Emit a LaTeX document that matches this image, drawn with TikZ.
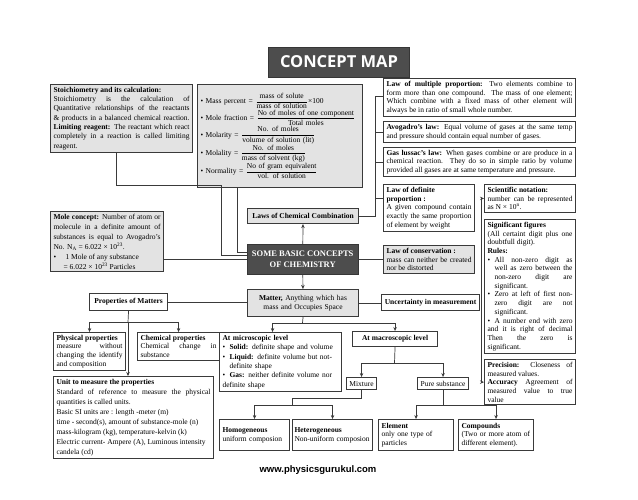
\documentclass[tikz,border=0pt]{standalone}
\usepackage{amsmath}
\usepackage{fontspec}
\setmainfont{Liberation Serif}
\newfontfamily\headfont{Open Sans}
\newfontfamily\webfont{Liberation Sans}
\usetikzlibrary{arrows.meta, calc}
\definecolor{cInk}{HTML}{3A3A3A}
\definecolor{cShade}{HTML}{E3E3E3}
\definecolor{cDark}{HTML}{4D4D4D}
\newcommand{\boxfont}{\fontsize{7.5}{8.7}\selectfont}
\newcommand{\roomyfont}{\fontsize{7.5}{10}\selectfont}
\newcommand{\itm}{\par\noindent\hangindent=7pt\hangafter=1\makebox[7pt][l]{\textbullet}}
\newcommand{\frc}[2]{$\dfrac{\text{#1}}{\text{#2}}$}

\begin{document}
\begin{tikzpicture}[
    x=1pt, y=-1pt, font=\boxfont,
    box/.style={draw=cInk, line width=1.1pt, fill=white, anchor=north west,
                inner xsep=3pt, inner ysep=2.5pt, align=justify},
    gbox/.style={box, fill=cShade},
    tag/.style={draw=cInk, line width=1.1pt, fill=white, anchor=north west,
                inner sep=1pt, align=center, font=\boxfont\bfseries},
    dark/.style={draw=cDark!70!black, fill=cDark, text=white},
    link/.style={line width=0.7pt, cInk},
    arr/.style={link, -{Stealth[length=4pt, width=3.5pt]}},
]
\useasboundingbox (0,0) rectangle (638,499);
\fill[white] (0,0) rectangle (638,499);

% ===================== Title =====================
\node[dark, minimum width=141pt, minimum height=30pt,
      font=\headfont\bfseries\fontsize{16.5}{18}\selectfont] (title) at (339,62) {CONCEPT MAP};

% ===================== Left column =====================
\node[gbox, text width=136pt, font=\fontsize{7.5}{9.3}\selectfont] (stoich) at (50,84) {%
  \textbf{Stoichiometry and its calculation:}\\
  Stoichiometry is the calculation of\linebreak
  Quantitative relationships of the reactants\linebreak
  \& products in a balanced chemical reaction.\linebreak
  \textbf{Limiting reagent:} The reactant which react\linebreak
  completely in a reaction is called limiting\linebreak
  reagent.};

\node[gbox, text width=107pt, font=\roomyfont] (mole) at (50,211) {%
  \textbf{Mole concept:} Number of atom or\linebreak
  molecule in a definite amount of\linebreak
  substances is equal to Avogadro's\linebreak
  No. N\textsubscript{A} = 6.022 × 10\textsuperscript{23}.\\
  \makebox[12pt][l]{\textbullet}1 Mole of any substance\\
  \hspace*{10pt}= 6.022 × 10\textsuperscript{23} Particles};

\node[tag, minimum width=78pt, minimum height=17pt] (props) at (89,293) {Properties of Matters};

\node[box, text width=66pt] (physical) at (53,332) {%
  \textbf{Physical properties}\\
  measure without\linebreak changing the identify\linebreak and composition};
\node[box, text width=76pt] (chemical) at (137,332) {%
  \textbf{Chemical properties}\\ Chemical change in\linebreak substance};

\node[box, text width=154pt, font=\roomyfont] (unit) at (53,376) {%
  \textbf{Unit to measure the properties}\\
  Standard of reference to measure the physical\linebreak
  quantities is called units.\\
  Basic SI units are : length -meter (m)\\
  time - second(s), amount of substance-mole (n)\\
  mass-kilogram (kg), temperature-kelvin (k)\\
  Electric current- Ampere (A), Luminous intensity\\
  candela (cd)};

% ===================== Formulae =====================
\node[gbox, text width=159pt, minimum height=103pt, align=left] (formula) at (197,84) {%
  \textbullet\ Mass percent = \frc{mass of solute}{mass of solution}×100\\
  \textbullet\ Mole fraction = \frc{No of moles of one component}{Total moles}\\
  \textbullet\ Molarity = \frc{No. of moles}{volume of solution (lit)}\\
  \textbullet\ Molality = \frc{No. of moles}{mass of solvent (kg)}\\
  \textbullet\ Normality = \frc{No of gram equivalent}{vol. of solution}};

% ===================== Centre =====================
\node[tag, fill=cShade, minimum width=111pt, minimum height=15pt] (laws) at (247,208)
      {Laws of Chemical Combination};
\node[dark, anchor=north west, minimum width=111pt, minimum height=30pt, align=center,
      font=\bfseries\fontsize{8.5}{10.5}\selectfont] (central) at (247,244)
      {SOME BASIC CONCEPTS\\OF CHEMISTRY};
\node[box, fill=cShade, text width=105pt, minimum height=27pt, align=center] (matter) at (247,289)
      {\textbf{Matter,} Anything which has\\mass and Occupies Space};

\node[box, text width=116pt, align=left, font=\fontsize{7.5}{9.4}\selectfont] (micro) at (219,332) {%
  \textbf{At microscopic level}
  \itm \textbf{Solid:} definite shape and volume
  \itm \textbf{Liquid:} definite volume but not-\hfil\break definite shape
  \itm \textbf{Gas:} neither definite volume nor\hfil\break definite shape};
\node[tag, minimum width=85pt, minimum height=15pt] (macro) at (352,331) {At macroscopic level};
\node[tag, font=\boxfont, minimum width=30pt, minimum height=12pt] (mixture) at (346,377) {Mixture};
\node[tag, font=\boxfont, minimum width=51pt, minimum height=12pt] (pure) at (417,377) {Pure substance};

\node[box, text width=64pt, minimum height=31pt, align=left] (homo) at (219,419)
      {\textbf{Homogeneous}\\uniform composion};
\node[box, inner xsep=2pt, text width=76pt, minimum height=31pt, align=left] (hetero) at (292,419)
      {\textbf{Heterogeneous}\\Non-uniform composion};
\node[box, text width=69pt, minimum height=31pt, align=left] (element) at (378,419)
      {\textbf{Element}\\only one type of\\particles};
\node[box, text width=69pt, minimum height=31pt, align=left] (compounds) at (458,419)
      {\textbf{Compounds}\\(Two or more atom of\\different element).};

% ===================== Right column =====================
\node[box, text width=186pt] (multiple) at (383,78) {%
  \textbf{Law of multiple proportion:} Two elements combine to\linebreak
  form more than one compound. The mass of one element;\linebreak
  Which combine with a fixed mass of other element will\linebreak
  always be in ratio of small whole number.};
\node[box, text width=186pt] (avogadro) at (383,121) {%
  \textbf{Avogadro's law:} Equal volume of gases at the same temp\linebreak
  and pressure should contain equal number of gases.};
\node[box, text width=186pt] (gas) at (383,147) {%
  \textbf{Gas lussac's law:} When gases combine or are produce in a\linebreak
  chemical reaction. They do so in simple ratio by volume\linebreak
  provided all gases are at same temperature and pressure.};

\node[box, text width=85pt] (definite) at (383,184) {%
  \textbf{Law of definite}\\ \textbf{proportion :}\\
  A given compound contain\linebreak
  exactly the same proportion\linebreak
  of element by weight};
\node[gbox, text width=85pt] (conserv) at (383,245) {%
  \textbf{Law of conservation :}\\
  mass can neither be created\linebreak
  nor be distorted};
\node[tag, minimum width=98pt, minimum height=16pt] (uncert) at (381,294) {Uncertainty in measurement};

\node[box, text width=85pt] (sci) at (484,184) {%
  \textbf{Scientific notation:}\\
  number can be represented\linebreak
  as N × 10\textsuperscript{n}.};
\node[box, text width=85pt] (sig) at (484,219) {%
  \textbf{Significant figures}\\
  (All certaint digit plus one\linebreak
  doubtfull digit).\\
  \textbf{Rules:}
  \itm All non-zero digit as\linebreak well as zero between the\linebreak
       non-zero digit are\linebreak significant.
  \itm Zero at left of first non-\linebreak zero digit are not\linebreak significant.
  \itm A number end with zero\linebreak and it is right of decimal\linebreak
       Then the zero is\linebreak significant.};
\node[box, text width=85pt] (precision) at (484,359) {%
  \textbf{Precision:} Closeness of\linebreak
  measured values.\\
  \textbf{Accuracy} Agreement of\linebreak
  measured value to true\linebreak
  value};

\node[font=\webfont\bfseries\fontsize{9.5}{11}\selectfont] (web) at (318,470) {www.physicsgurukul.com};

% ===================== Connectors: left side =====================
\coordinate (jStoich) at (221,185);
\draw[link] ([xshift=-5pt]stoich.south) |- (jStoich) |- ([yshift=4pt]central.west);
\draw[link] ([xshift=-42.5pt]formula.south) |- ([yshift=7pt]central.west);
\draw[link] (mole.east |- central.west) -- (central.west);
\draw[link] (props.east) -- (props.east -| matter.west);

\coordinate (pJ) at (128,322);
\draw[link] (props.south) -- (pJ);
\draw[arr] (pJ) -| (physical.north);
\draw[arr] (pJ) -| (chemical.north);
\draw[arr] (pJ) -- (pJ |- unit.north);

% ===================== Connectors: centre =====================
\draw[arr] (central) -- (laws);
\draw[arr] (central) -- (matter);

\coordinate (mJ) at (302.5,323);
\draw[link] (matter.south) -- (mJ);
\draw[arr] (mJ) -| ([xshift=-8pt]micro.north);
\draw[arr] (mJ) -| (macro.north);

\coordinate (xJ) at (394.5,363);
\draw[link] (macro.south) -- (xJ);
\draw[arr] (xJ) -| (mixture.north);
\draw[arr] (xJ) -| (pure.north);

\coordinate (mxB) at (292.75,398);
\coordinate (mxJ) at (292.75,405);
\draw[link] (mixture.south) |- (mxB) -- (mxJ);
\draw[arr] (mxJ) -| (homo.north);
\draw[arr] (mxJ) -| (hetero.north);

\coordinate (puJ) at (pure.south |- mxJ);
\draw[link] (pure.south) -- (puJ);
\draw[arr] (puJ) -| (element.north);
\draw[arr] (puJ) -| (compounds.north);

% ===================== Connectors: right side =====================
\coordinate (bTop) at (375,96);
\coordinate (bDef) at (375,198);
\draw[link] (laws.east) -| (bTop);
\draw[link] (bTop) -- (bTop -| multiple.west);
\draw[link] (avogadro.west -| bTop) -- (avogadro.west);
\draw[link] (gas.west -| bTop) -- (gas.west);
\draw[link] (bDef) -- (bDef -| definite.west);
\draw[link] (central.east) -- (central.east -| conserv.west);
\draw[link] (matter.east) -- (matter.east -| uncert.west);

\coordinate (uJ) at ($(uncert.east)+(1,0)$);
\draw[arr] (uJ) |- (sci.west);
\draw[arr] (uJ) |- (precision.west);

\end{tikzpicture}
\end{document}
